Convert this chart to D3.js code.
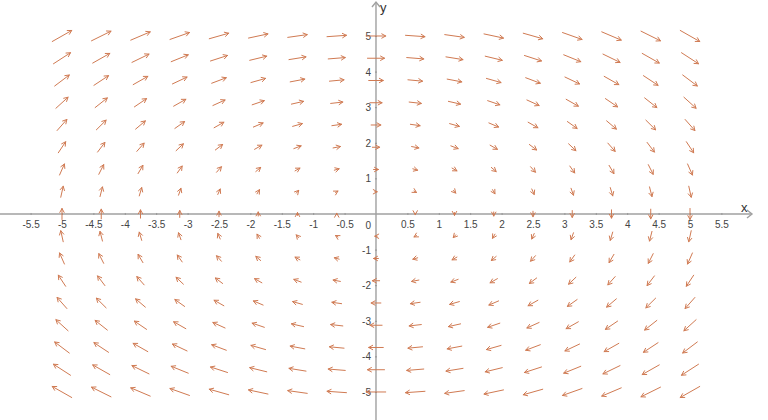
<!DOCTYPE html>
<html>
<head>
<meta charset="utf-8">
<script src="https://cdn.jsdelivr.net/npm/d3@7"></script>
<style>
  html, body { margin: 0; padding: 0; background: #fff; }
  svg { display: block; }
  .tick text { font-family: "Liberation Sans", Arial, sans-serif; font-size: 10px; fill: #444; }
</style>
</head>
<body>
<svg id="chart" width="768" height="420"></svg>
<script>
// grid where the arrows sit
var gridX = [-5, -4.375, -3.75, -3.125, -2.5, -1.875, -1.25, -0.625, 0, 0.625, 1.25, 1.875, 2.5, 3.125, 3.75, 4.375, 5];
var gridY = [5, 4.375, 3.75, 3.125, 2.5, 1.875, 1.25, 0.625, 0, -0.625, -1.25, -1.875, -2.5, -3.125, -3.75, -4.375, -5];

// horizontal part of the field on each row (same order as gridY)
var uByRow = [5, 4.375, 3.75, 3.125, 2.5, 1.875, 1.25, 0.625, 0, -0.625, -1.25, -1.875, -2.5, -3.125, -3.75, -4.375, -5];
// vertical part of the field in each column (same order as gridX)
var vByCol = [5, 4.375, 3.75, 3.125, 2.5, 1.875, 1.25, 0.625, 0, -0.625, -1.25, -1.875, -2.5, -3.125, -3.75, -4.375, -5];

var xTicks = [-5.5, -5, -4.5, -4, -3.5, -3, -2.5, -2, -1.5, -1, -0.5, 0.5, 1, 1.5, 2, 2.5, 3, 3.5, 4, 4.5, 5, 5.5];
var yTicks = [-5, -4, -3, -2, -1, 1, 2, 3, 4, 5];

var width = 768,
    height = 420,
    arrowScale = 0.062,
    headLen = 4.5,
    headAngle = 0.5,
    arrowColor = '#d07a52',
    axisColor = '#a0a0a0';

var x = d3.scaleLinear().domain([-5.987, 6.242]).range([0, width]),
    y = d3.scaleLinear().domain([-5.787, 6.011]).range([height, 0]);

var svg = d3.select('#chart');

//axes
var gx = svg.append('g')
    .attr('transform', 'translate(0,' + y(0) + ')')
    .call(d3.axisBottom(x).tickValues(xTicks).tickSize(2).tickPadding(5).tickFormat(String));

var gy = svg.append('g')
    .attr('transform', 'translate(' + x(0) + ',0)')
    .call(d3.axisLeft(y).tickValues(yTicks).tickSize(2).tickPadding(3).tickFormat(String));

gx.select('.domain').remove();
gy.select('.domain').remove();
svg.selectAll('.tick line').attr('stroke', '#777').attr('stroke-width', 1).attr('transform', 'translate(0,-1)');
gy.selectAll('.tick line').attr('transform', 'translate(1,0)');
gy.selectAll('.tick text').attr('dy', '0.36em');

svg.append('text')
    .attr('x', x(0) - 5)
    .attr('y', y(0) + 15)
    .attr('text-anchor', 'end')
    .style('font-family', '"Liberation Sans", Arial, sans-serif')
    .style('font-size', '10px')
    .attr('fill', '#444')
    .text('0');

var axes = svg.append('g')
    .attr('stroke', axisColor)
    .attr('fill', 'none')
    .attr('stroke-width', 1.4);

axes.append('line')
    .attr('x1', 0).attr('x2', 752)
    .attr('y1', y(0)).attr('y2', y(0));
axes.append('path')
    .attr('d', 'M' + 747 + ',' + (y(0) - 4) + 'L752,' + y(0) + 'L747,' + (y(0) + 4));

axes.append('line')
    .attr('x1', x(0)).attr('x2', x(0))
    .attr('y1', 2).attr('y2', height);
axes.append('path')
    .attr('d', 'M' + (x(0) - 4) + ',7L' + x(0) + ',2L' + (x(0) + 4) + ',7');

svg.append('text')
    .attr('x', 741).attr('y', 212)
    .style('font-family', '"Liberation Sans", Arial, sans-serif')
    .style('font-size', '13px')
    .attr('fill', '#333')
    .text('x');

svg.append('text')
    .attr('x', 380).attr('y', 12)
    .style('font-family', '"Liberation Sans", Arial, sans-serif')
    .style('font-size', '13px')
    .attr('fill', '#333')
    .text('y');

//vector field
var cells = [];
gridY.forEach(function (gy0, j) {
    gridX.forEach(function (gx0, i) {
        var u = uByRow[j], v = vByCol[i];
        if (u === 0 && v === 0) {
            return;
        }
        cells.push({x: gx0, y: gy0, u: u, v: v});
    });
});

function arrowPath(d) {
    var hx = d.u * arrowScale / 2,
        hy = d.v * arrowScale / 2,
        x1 = x(d.x - hx), y1 = y(d.y - hy),
        x2 = x(d.x + hx), y2 = y(d.y + hy),
        a = Math.atan2(y2 - y1, x2 - x1),
        p1 = [x2 - headLen * Math.cos(a - headAngle), y2 - headLen * Math.sin(a - headAngle)],
        p2 = [x2 - headLen * Math.cos(a + headAngle), y2 - headLen * Math.sin(a + headAngle)];
    return 'M' + x1 + ',' + y1 + 'L' + x2 + ',' + y2 +
        'M' + p1[0] + ',' + p1[1] + 'L' + x2 + ',' + y2 + 'L' + p2[0] + ',' + p2[1];
}

svg.append('g')
    .selectAll('path')
    .data(cells)
    .join('path')
    .attr('d', arrowPath)
    .attr('fill', 'none')
    .attr('stroke', arrowColor)
    .attr('stroke-width', 1)
    .attr('stroke-linecap', 'round')
    .attr('stroke-linejoin', 'round');
</script>
</body>
</html>
